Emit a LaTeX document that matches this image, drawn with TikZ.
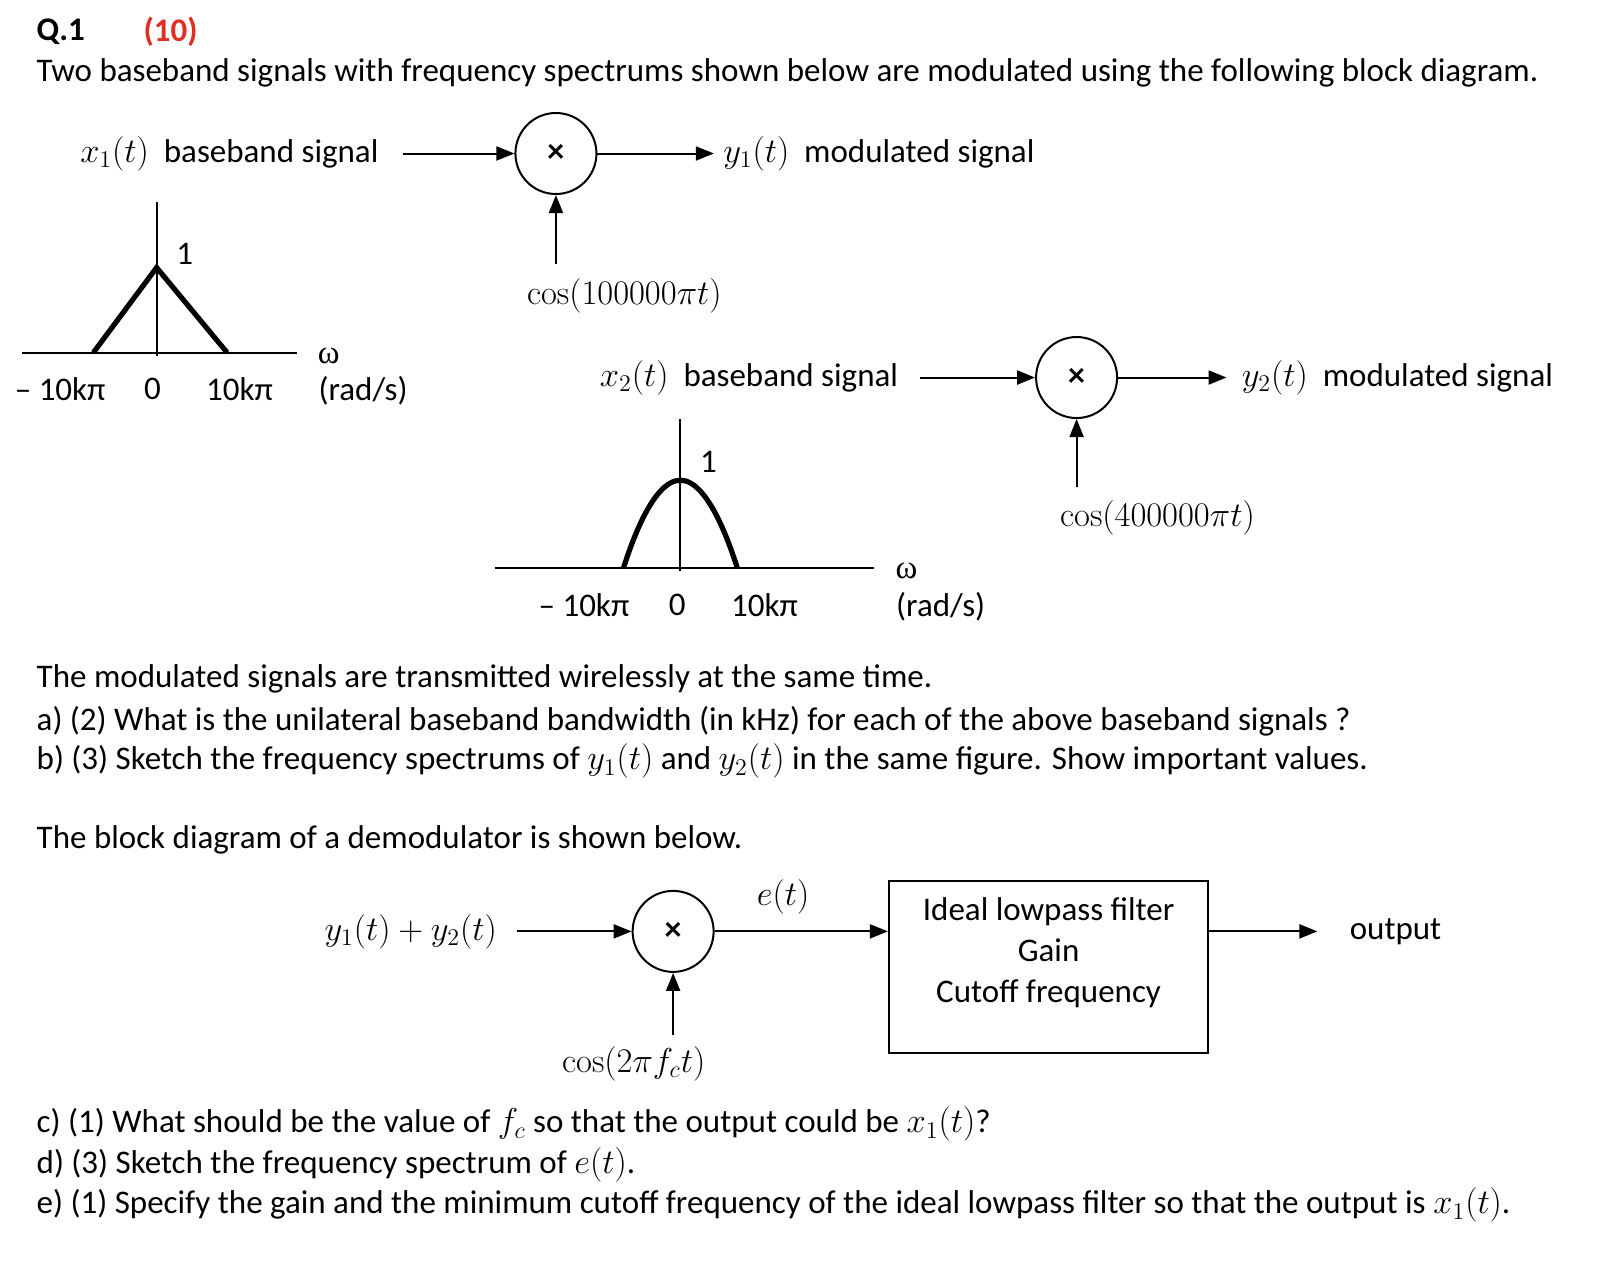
\documentclass[tikz,border=0pt]{standalone}
\usepackage[no-math]{fontspec}
\setmainfont{Carlito}
\newfontfamily\omegafont{Liberation Serif}
\usetikzlibrary{arrows.meta}
\definecolor{qred}{RGB}{226,45,35}
\tikzset{
  sig/.style={line width=1pt, -{Triangle[length=9pt,width=7pt]}},
  mixer/.style={draw, line width=1pt, circle, minimum size=40.5pt, inner sep=0pt, font=\bfseries\fontsize{17}{17}\selectfont},
  lbl/.style={inner sep=0pt, anchor=west},
  axis/.style={line width=0.9pt},
  spec/.style={line width=2.6pt},
  lpf/.style={draw, line width=1pt, minimum width=159.7pt, minimum height=86pt}
}
\begin{document}
\fontsize{16.5}{20.5}\selectfont
\begin{tikzpicture}[x=0.5185pt, y=-0.5185pt]
    \useasboundingbox (0,0) rectangle (1560,1228);
    % heading
    \node[lbl, font=\bfseries] (qnum) at (35,31) {Q.1};
    \node[lbl, font=\bfseries, text=qred] (qpts) at (138,31) {(10)};
    \node[lbl] (intro) at (35,70) {Two baseband signals with frequency spectrums shown below are modulated using the following block diagram.};
    % first modulator
    \node[lbl] (x1lbl) at (77,148) {$x_1(t)$\ \ baseband signal};
    \node[mixer] (mod1) at (536,148) {×};
    \node[lbl] (y1lbl) at (697,148) {$y_1(t)$\ \ modulated signal};
    \coordinate (car1) at (536,255);
    \node (cos1) at (602,285) {$\mathrm{cos}(100000\pi t)$};
    \draw[sig, shorten <=12pt] (x1lbl.east) -- (mod1.west);
    \draw[sig, shorten >=4.5pt] (mod1.east) -- (y1lbl.west);
    \draw[sig] (car1) -- (mod1.south);
    % spectrum of x1
    \coordinate (ax1l) at (21,340);
    \coordinate (ax1r) at (286,340);
    \coordinate (ax1b) at (151,343);
    \coordinate (ax1t) at (151,195);
    \draw[axis] (ax1l) -- (ax1r);
    \draw[axis] (ax1b) -- (ax1t);
    \draw[spec, line join=miter] (90,340) -- (151,258) -- (219,340);
    \node (one1) at (178,245) {1};
    \node (w1) at (317,343) {\omegafont ω};
    \node (rad1) at (350,377) {(rad/s)};
    \node (m1) at (58,375) {– 10kπ};
    \node (z1) at (147,375) {0};
    \node (p1) at (231,375) {10kπ};
    % second modulator
    \node[lbl] (x2lbl) at (578,364) {$x_2(t)$\ \ baseband signal};
    \node[mixer] (mod2) at (1038,364) {×};
    \node[lbl] (y2lbl) at (1197,364) {$y_2(t)$\ \ modulated signal};
    \coordinate (car2) at (1038,470);
    \node (cos2) at (1116,499) {$\mathrm{cos}(400000\pi t)$};
    \draw[sig, shorten <=11pt] (x2lbl.east) -- (mod2.west);
    \draw[sig, shorten >=7.5pt] (mod2.east) -- (y2lbl.west);
    \draw[sig] (car2) -- (mod2.south);
    % spectrum of x2
    \coordinate (ax2l) at (477,548);
    \coordinate (ax2r) at (843,548);
    \coordinate (ax2b) at (656,551);
    \coordinate (ax2t) at (656,404);
    \draw[axis] (ax2l) -- (ax2r);
    \draw[axis] (ax2b) -- (ax2t);
    \draw[spec] (601,548) parabola bend (656,463) (711,548);
    \node (one2) at (683,445) {1};
    \node (w2) at (874,550) {\omegafont ω};
    \node (rad2) at (907,585) {(rad/s)};
    \node (m2) at (563,583) {– 10kπ};
    \node (z2) at (653,583) {0};
    \node (p2) at (737,583) {10kπ};
    % questions a, b
    \node[lbl] (qa0) at (35,655) {The modulated signals are transmitted wirelessly at the same time.};
    \node[lbl] (qa) at (35,695) {a) (2) What is the unilateral baseband bandwidth (in kHz) for each of the above baseband signals ?};
    \node[lbl] (qb) at (35,734) {b) (3) Sketch the frequency spectrums of $y_1(t)$ and $y_2(t)$ in the same figure. Show important values.};
    \node[lbl] (qdem) at (35,810) {The block diagram of a demodulator is shown below.};
    % demodulator
    \node[inner sep=0pt] (sumlbl) at (396,898) {$y_1(t)+y_2(t)$};
    \node[mixer] (mod3) at (649,898) {×};
    \node (elbl) at (755,865) {$e(t)$};
    \node[lpf] (lpf) at (1011,932) {};
    \node[align=center] (lpftxt) at (1011,919) {Ideal lowpass filter\\Gain\\Cutoff frequency};
    \node[lbl] (outlbl) at (1301,898) {output};
    \coordinate (car3) at (649,998);
    \node (cos3) at (611,1026) {$\mathrm{cos}(2\pi f_c t)$};
    \draw[sig, shorten <=10pt] (sumlbl.east) -- (mod3.west);
    \draw[sig] (mod3.east) -- (mod3.east -| lpf.west);
    \draw[sig, shorten >=16pt] (mod3.east -| lpf.east) -- (outlbl.west);
    \draw[sig] (car3) -- (mod3.south);
    % questions c, d, e
    \node[lbl] (qc) at (35,1084) {c) (1) What should be the value of $f_c$ so that the output could be $x_1(t)$?};
    \node[lbl] (qd) at (35,1123) {d) (3) Sketch the frequency spectrum of $e(t)$.};
    \node[lbl] (qe) at (35,1162) {e) (1) Specify the gain and the minimum cutoff frequency of the ideal lowpass filter so that the output is $x_1(t)$.};
\end{tikzpicture}
\end{document}
